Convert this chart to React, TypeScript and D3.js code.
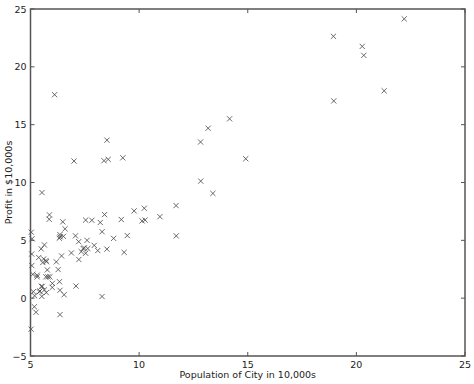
import React from "react";
import * as d3 from "d3";

const population = [6.1101,5.5277,8.5186,7.0032,5.8598,8.3829,7.4764,8.5781,6.4862,5.0546,5.7107,14.164,5.734,8.4084,5.6407,5.3794,6.3654,5.1301,6.4296,7.0708,6.1891,20.27,5.4901,6.3261,5.5649,18.945,12.828,10.957,13.176,22.203,5.2524,6.5894,9.2482,5.8918,8.2111,7.9334,8.0959,5.6063,12.836,6.3534,5.4069,6.8825,11.708,5.7737,7.8247,7.0931,5.0702,5.8014,11.7,5.5416,7.5402,5.3077,7.4239,7.6031,6.3328,6.3589,6.2742,5.6397,9.3102,9.4536,8.8254,5.1793,21.279,14.908,18.959,7.2182,8.2951,10.236,5.4994,20.341,10.136,7.3345,6.0062,7.2259,5.0269,6.5479,7.5386,5.0365,10.274,5.1077,5.7292,5.1884,6.3557,9.7687,6.5159,8.5172,9.1802,6.002,5.5204,5.0594,5.7077,7.6366,5.8707,5.3054,8.2934,13.394,5.4369];
const profit = [17.592,9.1302,13.662,11.854,6.8233,11.886,4.3483,12,6.5987,3.8166,3.2522,15.505,3.1551,7.2258,0.71618,3.5129,5.3048,0.56077,3.6518,5.3893,3.1386,21.767,4.263,5.1875,3.0825,22.638,13.501,7.0467,14.692,24.147,-1.22,5.9966,12.134,1.8495,6.5426,4.5623,4.1164,3.3928,10.117,5.4974,0.55657,3.9115,5.3854,2.4406,6.7318,1.0463,5.1337,1.844,8.0043,1.0179,6.7504,1.8396,4.2885,4.9981,1.4233,-1.4211,2.4756,4.6042,3.9624,5.4141,5.1694,-0.74279,17.929,12.054,17.054,4.8852,5.7442,7.7754,1.0173,20.992,6.6799,4.0259,1.2784,3.3411,-2.6807,0.29678,3.8845,5.7014,6.7526,2.0576,0.47953,0.20421,0.67861,7.5435,5.3436,4.2415,6.7981,0.92695,0.152,2.8214,1.8451,4.2959,7.2029,1.9869,0.14454,9.0551,0.61705];
const xTicks = [5, 10, 15, 20, 25];
const yTicks = [-5, 0, 5, 10, 15, 20, 25];

export default function App() {
  const W = 474, H = 384;
  const left = 30.5, right = 465, top = 9, bottom = 356;
  const x = d3.scaleLinear().domain([5, 25]).range([left, right]);
  const y = d3.scaleLinear().domain([-5, 25]).range([bottom, top]);
  const font = "DejaVu Sans, sans-serif";
  const axisColor = "#555";
  const s = 2.6;
  return (
    <svg width={W} height={H} style={{ position: "absolute", left: 0, top: 0, background: "#fff" }}>
      <g stroke="#444" strokeWidth={0.8} fill="none">
        {population.map((p, i) => {
          const cx = x(p), cy = y(profit[i]);
          return (
            <path key={i} d={`M${cx - s},${cy - s}L${cx + s},${cy + s}M${cx - s},${cy + s}L${cx + s},${cy - s}`} />
          );
        })}
      </g>
      <rect x={left} y={top} width={right - left} height={bottom - top} fill="none" stroke={axisColor} strokeWidth={1.5} />
      <g stroke={axisColor} strokeWidth={1}>
        {xTicks.map((t) => (
          <g key={t}>
            <line x1={x(t)} x2={x(t)} y1={bottom} y2={bottom - 4} />
            <line x1={x(t)} x2={x(t)} y1={top} y2={top + 4} />
          </g>
        ))}
        {yTicks.map((t) => (
          <g key={t}>
            <line x1={left} x2={left + 4} y1={y(t)} y2={y(t)} />
            <line x1={right} x2={right - 4} y1={y(t)} y2={y(t)} />
          </g>
        ))}
      </g>
      <g fontFamily={font} fontSize={9.5} fill="#222">
        {xTicks.map((t) => (
          <text key={t} x={x(t)} y={bottom + 12} textAnchor="middle">{t}</text>
        ))}
        {yTicks.map((t) => (
          <text key={t} x={left - 4} y={y(t) + 3.5} textAnchor="end">{t < 0 ? "\u2212" + Math.abs(t) : t}</text>
        ))}
        <text x={(left + right) / 2} y={378} textAnchor="middle">Population of City in 10,000s</text>
        <text transform={`translate(12,${(top + bottom) / 2}) rotate(-90)`} textAnchor="middle">Profit in $10,000s</text>
      </g>
    </svg>
  );
}
